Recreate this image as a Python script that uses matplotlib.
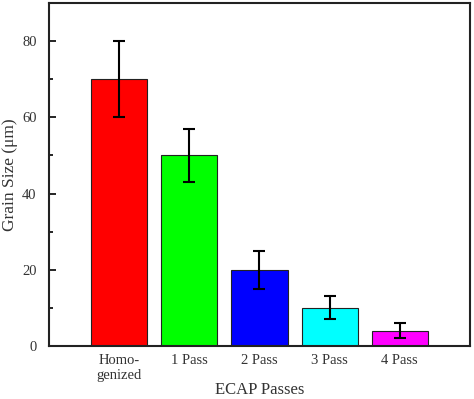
import matplotlib.pyplot as plt
from matplotlib.ticker import MultipleLocator

# dados
categorias = ['Homo-\ngenized', '1 Pass', '2 Pass', '3 Pass', '4 Pass']
tamanho_grao = [70, 50, 20, 10, 4]
erro = [10, 7, 5, 3, 2]
cores = ['#ff0000', '#00ff00', '#0000ff', '#00ffff', '#ff00ff']

plt.rcParams['font.family'] = 'Liberation Serif'

fig = plt.figure(figsize=(4.74, 3.99), dpi=100)
ax = fig.add_axes([0.1034, 0.1328, 0.888, 0.86])

pos = list(range(1, len(categorias) + 1))
ax.bar(pos, tamanho_grao, width=0.8, color=cores, edgecolor='#222222', linewidth=0.8,
       yerr=erro, capsize=4, error_kw=dict(elinewidth=1.5, capthick=1.5, ecolor='black'))

ax.set_xlim(0, 6)
ax.set_ylim(0, 90)
ax.set_xticks(pos)
ax.set_xticklabels(categorias, fontsize=10.5, linespacing=1.2)
ax.yaxis.set_major_locator(MultipleLocator(20))
ax.yaxis.set_minor_locator(MultipleLocator(10))
ax.tick_params(axis='y', which='both', direction='in', labelsize=10.5, labelcolor='#333333', pad=9)
ax.tick_params(axis='y', which='major', length=5, width=1.2)
ax.tick_params(axis='y', which='minor', length=3, width=1.2)
ax.tick_params(axis='x', length=0, pad=6, labelcolor='#333333')
for s in ax.spines.values():
    s.set_linewidth(1.5)
    s.set_color('#222222')

ax.set_xlabel('ECAP Passes', fontsize=12, color='#333333')
ax.xaxis.set_label_coords(0.5, -0.105)
ax.set_ylabel('Grain Size (\u03bcm)', fontsize=12.5, color='#333333', labelpad=3)

fig.savefig('out.png', dpi=100)
